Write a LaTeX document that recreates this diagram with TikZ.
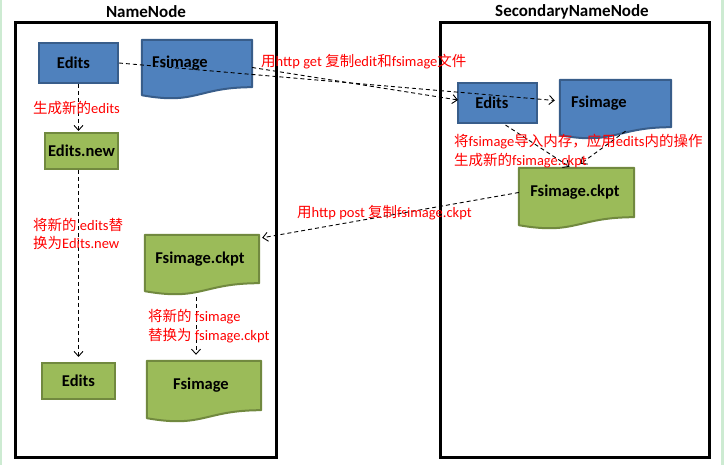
\documentclass[tikz,border=0pt]{standalone}
\usepackage{fontspec}
\setmainfont{Carlito}
\newfontfamily\cjk{Noto Sans CJK SC}
\usetikzlibrary{calc,arrows.meta}
\definecolor{bfill}{HTML}{4F81BD}
\definecolor{bline}{HTML}{385D8A}
\definecolor{gfill}{HTML}{9BBB59}
\definecolor{gline}{HTML}{71893F}
\definecolor{strip}{HTML}{CDEBD2}
\newcommand\zh[1]{{\cjk #1}}
\newcommand\docpath[3]{%
  \draw[#3, fill=#2, line width=2pt, line join=round]
    (#1.north west) -- (#1.north east) -- (#1.south east)
    .. controls (#1.south) and ($(#1.south)+(0,18)$) ..
    ($(#1.south west)+(0,8)$) -- cycle;}
\begin{document}
\begin{tikzpicture}[x=1pt,y=-1pt,
  boxtxt/.style={font=\fontsize{16.5}{18}\selectfont\bfseries, text=black, inner sep=0pt},
  bluebox/.style={boxtxt, draw=bline, fill=bfill, line width=2pt},
  greenbox/.style={boxtxt, draw=gline, fill=gfill, line width=2pt},
  docarea/.style={boxtxt},
  lbl/.style={font=\fontsize{14.5}{18.5}\selectfont, text=red, inner sep=0pt, align=left, anchor=west},
  title/.style={font=\fontsize{17}{19}\selectfont\bfseries, inner sep=0pt},
  frame/.style={draw=black, line width=3pt},
  edge/.style={draw=black, line width=0.9pt, dash pattern=on 4pt off 3pt,
    -{Straight Barb[length=5pt,width=9pt,line width=0.9pt]}}]
\useasboundingbox (0,0) rectangle (724,465);
\fill[white] (0,0) rectangle (724,465);
\fill[strip] (0,0) rectangle (2,465);
\fill[strip] (721,0) rectangle (724,465);
% frames
\draw[frame] (15,23) rectangle (276,458);
\draw[frame] (440,23) rectangle (709,458);
\node[title] (tnn) at (146,12) {NameNode};
\node[title] (tsnn) at (572,12) {SecondaryNameNode};
% NameNode
\node[bluebox, minimum width=79pt, minimum height=40pt] (ne) at (78.5,63) {\hspace*{-10pt}Edits};
\node[docarea, minimum width=110pt, minimum height=47pt] (nfs) at (197,63.5) {};
\docpath{nfs}{bfill}{bline}
\node[boxtxt] at (nfs.center) {\hspace*{-34pt}Fsimage};
\node[greenbox, minimum width=73pt, minimum height=36pt] (enew) at (81.5,151) {Edits.new};
\node[docarea, minimum width=114pt, minimum height=48pt] (nckpt) at (202,259) {};
\docpath{nckpt}{gfill}{gline}
\node[boxtxt] at ($(nckpt.center)+(-2,0)$) {Fsimage.ckpt};
\node[greenbox, minimum width=73pt, minimum height=36pt] (eb) at (78.5,381) {Edits};
\node[docarea, minimum width=114pt, minimum height=49pt] (fb) at (204,385.5) {};
\docpath{fb}{gfill}{gline}
\node[boxtxt] at ($(fb.center)+(-3,0)$) {Fsimage};
% SecondaryNameNode
\node[bluebox, minimum width=79pt, minimum height=40pt] (sne) at (497.5,103) {\hspace*{-11pt}Edits};
\node[docarea, minimum width=111pt, minimum height=47pt] (snfs) at (615.5,103.5) {};
\docpath{snfs}{bfill}{bline}
\node[boxtxt] at (snfs.center) {\hspace*{-33pt}Fsimage};
\node[docarea, minimum width=115pt, minimum height=49pt] (sckpt) at (576.5,192.5) {};
\docpath{sckpt}{gfill}{gline}
\node[boxtxt] at ($(sckpt.center)+(-1.5,0)$) {Fsimage.ckpt};
% connectors
\draw[edge] (ne.east) -- ($(snfs.west)+(-5,-3)$);
\draw[edge] ($(nfs.east)+(0,4)$) -- ($(sne.west)+(1,-3)$);
\draw[edge] (ne.south) -- ($(ne.south |- enew.north)+(0,-1)$);
\draw[edge] (enew.south -| eb.north) -- ($(eb.north)+(0,-5)$);
\draw[edge] (sckpt.west) -- ($(nckpt.north east)+(3,3)$);
\draw[edge] ($(nckpt.south)+(-6,14)$) -- ($(fb.north)+(-8,-6)$);
\draw[edge] ($(sne.south)+(8,1)$) -- ($(sckpt.north)+(-7,-1)$);
\draw[edge] ($(snfs.south)+(10,4)$) -- ($(sckpt.north)+(4,-4)$);
% labels
\node[lbl] (l1) at (261,62) {\zh{用}http get \zh{复制}edit\zh{和}fsimage\zh{文件}};
\node[lbl] (l2) at (33,108) {\zh{生成新的}edits};
\node[lbl] (l3) at (33,234) {\zh{将新的} edits\zh{替}\\\zh{换为}Edits.new};
\node[lbl] (l4) at (454,151) {\zh{将}fsimage\zh{导入内存，应用}edits\zh{内的操作}\\\zh{生成新的}fsimage.ckpt};
\node[lbl] (l5) at (297,213) {\zh{用}http post \zh{复制}fsimage.ckpt};
\node[lbl] (l6) at (148,326) {\zh{将新的} fsimage\\\zh{替换为} fsimage.ckpt};
\end{tikzpicture}
\end{document}
